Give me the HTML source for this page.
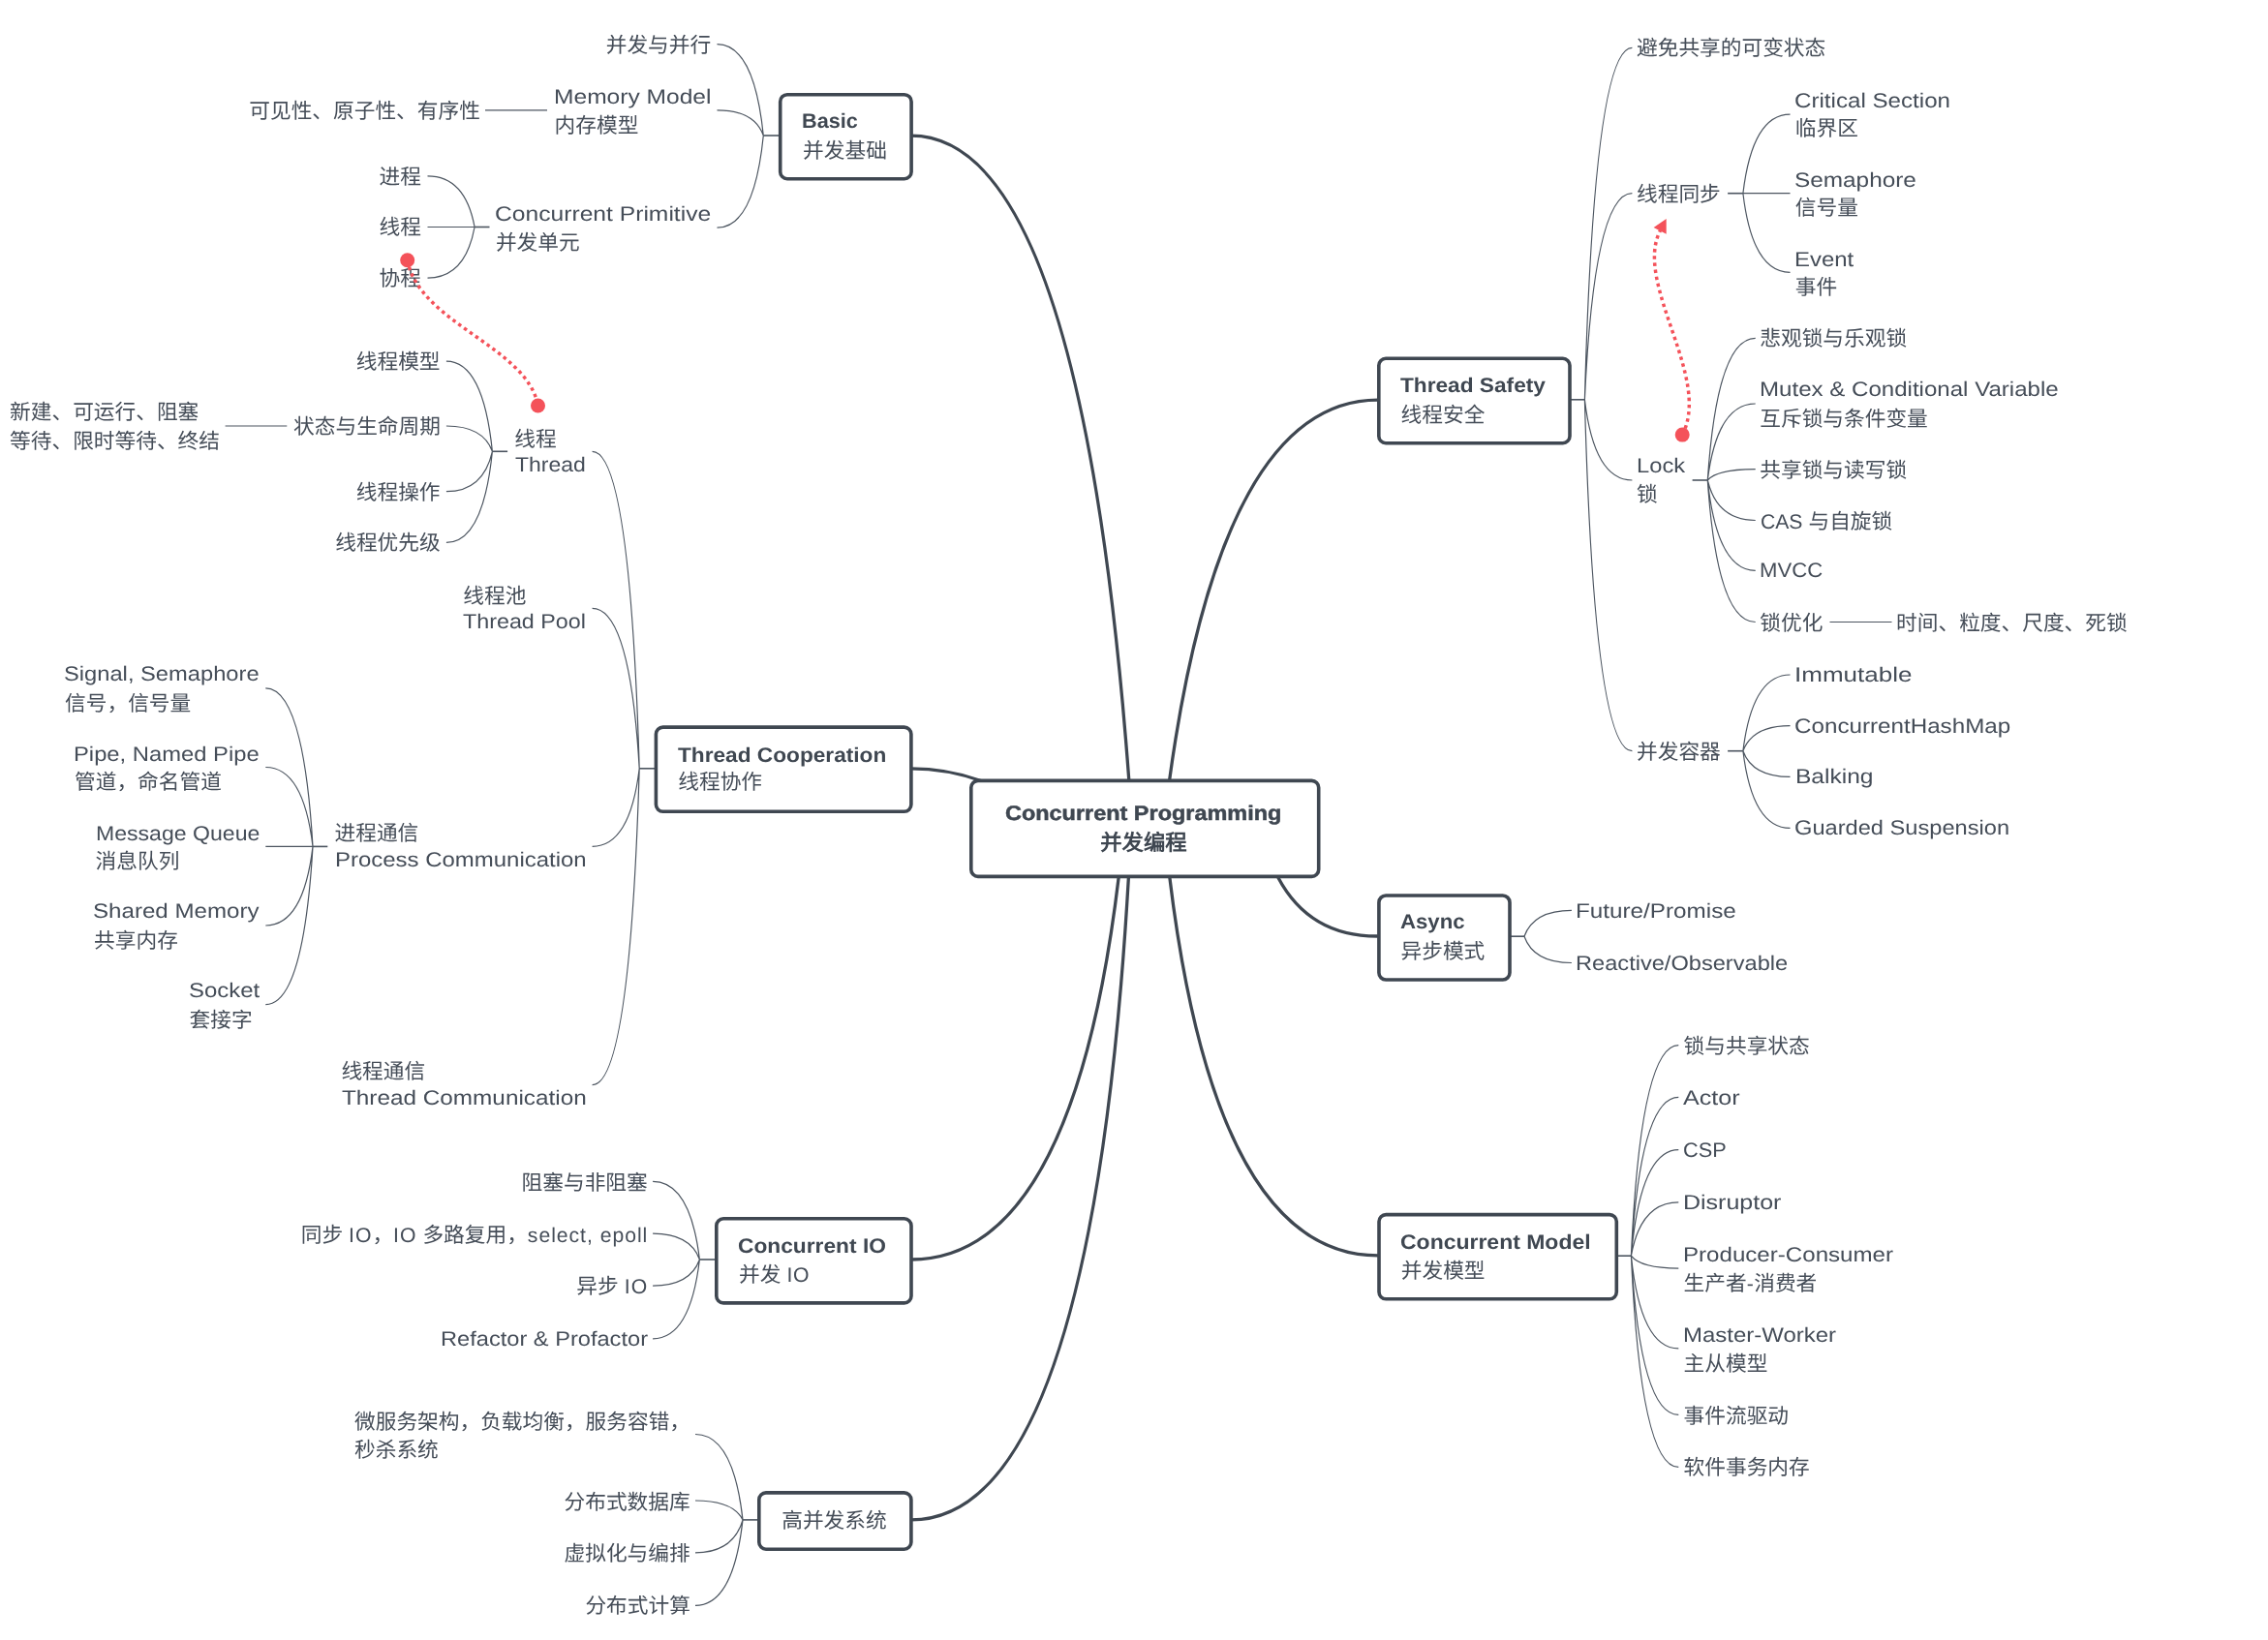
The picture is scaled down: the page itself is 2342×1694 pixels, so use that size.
<!DOCTYPE html>
<html lang="zh-CN">
<head>
<meta charset="utf-8">
<title>Concurrent Programming 并发编程</title>
<style>
html,body{margin:0;padding:0;background:#fff}
body{width:2342px;height:1694px;position:relative;overflow:hidden;font-family:"Liberation Sans",sans-serif;font-size:21.7px;color:#454d58;text-rendering:geometricPrecision}
svg{position:absolute;left:0;top:0}
.t{position:absolute;height:30px;line-height:30px;white-space:nowrap;margin:0}
.tx{position:absolute;left:0;top:0;width:2342px;height:1694px;will-change:transform}
.b{font-weight:bold;color:#3f4751}
.e{font-size:21.2px}
.s{transform-origin:0 50%}
.x{-webkit-text-stroke:0.5px #3f4751}
</style>
</head>
<body>
<svg width="2342" height="1694" viewBox="0 0 2342 1694">
<g fill="none" stroke="#3f4751" stroke-width="3.3" stroke-linecap="round">
<path d="M940.8 140.2Q1116.3 140.2 1165.8 806"/>
<path d="M1422.9 413.2Q1261.4 413.2 1207.6 806"/>
<path d="M940 793.8Q978.6 793.8 1013 806.5"/>
<path d="M1422 967Q1352.2 967 1320 906.7"/>
<path d="M940.8 1301Q1108 1301 1155.2 906"/>
<path d="M940.8 1569.9Q1127.2 1569.9 1165.4 906"/>
<path d="M1422.9 1296.9Q1255.1 1296.9 1207.8 906"/>
</g>
<g fill="none" stroke="#4c5560" stroke-width="1.2">
<path d="M740.5 45.7Q778.7 45.7 788.3 140M740.5 113.8Q778.7 113.8 788.3 140M740.5 235.2Q778.7 235.2 788.3 140"/>
<path d="M441.5 181.8Q480.4 181.8 490.1 234.5M441.5 234.5L490.1 234.5M441.5 287.1Q480.4 287.1 490.1 234.5"/>
<path d="M460.9 373.1Q498.9 373.1 508.4 466.3M460.9 440Q498.9 440 508.4 466.3M460.9 507.7Q498.9 507.7 508.4 466.3M460.9 560.4Q498.9 560.4 508.4 466.3"/>
<path d="M611.6 466.3Q650.5 466.3 660.2 793.8M611.6 628.3Q650.5 628.3 660.2 793.8M611.6 874.4Q650.5 874.4 660.2 793.8M611.6 1120.6Q650.5 1120.6 660.2 793.8"/>
<path d="M274.3 710.9Q313.3 710.9 323 874.4M274.3 792.5Q313.3 792.5 323 874.4M274.3 874.4L323 874.4M274.3 956Q313.3 956 323 874.4M274.3 1037.6Q313.3 1037.6 323 874.4"/>
<path d="M674.1 1220.4Q712.7 1220.4 722.4 1301M674.1 1274.2Q712.7 1274.2 722.4 1301M674.1 1328.1Q712.7 1328.1 722.4 1301M674.1 1382.8Q712.7 1382.8 722.4 1301"/>
<path d="M718 1481.5Q757.2 1481.5 767 1569.9M718 1550Q757.2 1550 767 1569.9M718 1603.8Q757.2 1603.8 767 1569.9M718 1658.4Q757.2 1658.4 767 1569.9"/>
<path d="M1685.4 49.4Q1646.2 49.4 1636.4 412.8M1685.4 199.7Q1646.2 199.7 1636.4 412.8M1685.4 496Q1646.2 496 1636.4 412.8M1685.4 775.7Q1646.2 775.7 1636.4 412.8"/>
<path d="M1848.5 118.1Q1809.6 118.1 1799.9 199.7M1848.5 199.7L1799.9 199.7M1848.5 281.3Q1809.6 281.3 1799.9 199.7"/>
<path d="M1812.7 349.3Q1773.2 349.3 1763.3 496M1812.7 417Q1773.2 417 1763.3 496M1812.7 484.6Q1773.2 484.6 1763.3 496M1812.7 537.5Q1773.2 537.5 1763.3 496M1812.7 589.3Q1773.2 589.3 1763.3 496M1812.7 642.5Q1773.2 642.5 1763.3 496"/>
<path d="M1848.5 697Q1809.6 697 1799.9 775.7M1848.5 749.7Q1809.6 749.7 1799.9 775.7M1848.5 802.4Q1809.6 802.4 1799.9 775.7M1848.5 855.4Q1809.6 855.4 1799.9 775.7"/>
<path d="M1622.9 940.4Q1583.8 940.4 1574 967.2M1622.9 994.5Q1583.8 994.5 1574 967.2"/>
<path d="M1733.3 1079.6Q1694.2 1079.6 1684.4 1297.2M1733.3 1133.3Q1694.2 1133.3 1684.4 1297.2M1733.3 1187.6Q1694.2 1187.6 1684.4 1297.2M1733.3 1241.8Q1694.2 1241.8 1684.4 1297.2M1733.3 1310.1Q1694.2 1310.1 1684.4 1297.2M1733.3 1392.9Q1694.2 1392.9 1684.4 1297.2M1733.3 1461.3Q1694.2 1461.3 1684.4 1297.2M1733.3 1515.4Q1694.2 1515.4 1684.4 1297.2"/>
<path d="M501 113.8L565 113.8"/>
<path d="M232.6 440L296.3 440"/>
<path d="M1889.5 642.5L1953.5 642.5"/>
</g>
<g fill="none" stroke="#4c5560" stroke-width="1.6">
<path d="M788.3 140L806 140"/>
<path d="M490.1 234.5L505.5 234.5"/>
<path d="M508.4 466.3L524.1 466.3"/>
<path d="M660.2 793.8L677.5 793.8"/>
<path d="M323 874.4L338.3 874.4"/>
<path d="M722.4 1301L739.5 1301"/>
<path d="M767 1569.9L784.5 1569.9"/>
<path d="M1636.4 412.8L1621 412.8"/>
<path d="M1799.9 199.7L1784.1 199.7"/>
<path d="M1763.3 496L1747.6 496"/>
<path d="M1799.9 775.7L1784.1 775.7"/>
<path d="M1574 967.2L1559 967.2"/>
<path d="M1684.4 1297.2L1669 1297.2"/>
</g>
<g fill="#fff" stroke="#3f4751" stroke-width="3.6">
<rect x="805.7" y="97.7" width="135.4" height="87" rx="7.2" ry="7.2"/>
<rect x="1423.8" y="370.3" width="197.2" height="87.4" rx="7.2" ry="7.2"/>
<rect x="677.4" y="751.1" width="263.5" height="87.2" rx="7.2" ry="7.2"/>
<rect x="1002.8" y="806.4" width="358.9" height="99" rx="7.2" ry="7.2"/>
<rect x="1423.9" y="925" width="135.1" height="87" rx="7.2" ry="7.2"/>
<rect x="739.8" y="1258.8" width="201.2" height="87.1" rx="7.2" ry="7.2"/>
<rect x="783.8" y="1541.9" width="157.1" height="58.3" rx="7.2" ry="7.2"/>
<rect x="1424" y="1254.6" width="245.3" height="87.2" rx="7.2" ry="7.2"/>
</g>
</svg>
<div class="tx">
<div class="t" id="t0" style="left:625.7px;top:31.7px">并发与并行</div>
<div class="t s" id="t1" style="left:571.9px;top:84.7px;transform:scaleX(1.1598)"><span class="e">Memory Model</span></div>
<div class="t" id="t2" style="left:572.6px;top:114.7px">内存模型</div>
<div class="t" id="t3" style="left:257.3px;top:99.8px">可见性、原子性、有序性</div>
<div class="t s" id="t4" style="left:511.2px;top:205.6px;transform:scaleX(1.1630)"><span class="e">Concurrent Primitive</span></div>
<div class="t" id="t5" style="left:511.9px;top:235.5px">并发单元</div>
<div class="t" id="t6" style="left:391.6px;top:167.8px">进程</div>
<div class="t" id="t7" style="left:391.6px;top:220.1px">线程</div>
<div class="t" id="t8" style="left:391.6px;top:273.1px">协程</div>
<div class="t" id="t9" style="left:367.8px;top:359.1px">线程模型</div>
<div class="t" id="t10" style="left:303.1px;top:426px">状态与生命周期</div>
<div class="t" id="t11" style="left:10.1px;top:411.4px">新建、可运行、阻塞</div>
<div class="t" id="t12" style="left:10.1px;top:440.6px">等待、限时等待、终结</div>
<div class="t" id="t13" style="left:367.8px;top:493.7px">线程操作</div>
<div class="t" id="t14" style="left:346.2px;top:546.4px">线程优先级</div>
<div class="t" id="t15" style="left:531.3px;top:438.5px">线程</div>
<div class="t s" id="t16" style="left:531.7px;top:464.9px;transform:scaleX(1.0843)"><span class="e">Thread</span></div>
<div class="t" id="t17" style="left:478.3px;top:601.1px">线程池</div>
<div class="t s" id="t18" style="left:478.3px;top:626.8px;transform:scaleX(1.0993)"><span class="e">Thread Pool</span></div>
<div class="t s" id="t19" style="left:66.4px;top:681.3px;transform:scaleX(1.1186)"><span class="e">Signal, Semaphore</span></div>
<div class="t" id="t20" style="left:67.1px;top:711.6px">信号，信号量</div>
<div class="t s" id="t21" style="left:76.3px;top:763.6px;transform:scaleX(1.1225)"><span class="e">Pipe, Named Pipe</span></div>
<div class="t" id="t22" style="left:77px;top:793.1px">管道，命名管道</div>
<div class="t s" id="t23" style="left:99.4px;top:845.9px;transform:scaleX(1.0889)"><span class="e">Message Queue</span></div>
<div class="t" id="t24" style="left:98.6px;top:874.7px">消息队列</div>
<div class="t s" id="t25" style="left:96.4px;top:926.4px;transform:scaleX(1.1384)"><span class="e">Shared Memory</span></div>
<div class="t" id="t26" style="left:97.1px;top:956.6px">共享内存</div>
<div class="t s" id="t27" style="left:194.8px;top:1008.3px;transform:scaleX(1.1300)"><span class="e">Socket</span></div>
<div class="t" id="t28" style="left:195.5px;top:1038.6px">套接字</div>
<div class="t" id="t29" style="left:345.5px;top:846.2px">进程通信</div>
<div class="t s" id="t30" style="left:345.5px;top:873.3px;transform:scaleX(1.1310)"><span class="e">Process Communication</span></div>
<div class="t" id="t31" style="left:352.4px;top:1092px">线程通信</div>
<div class="t s" id="t32" style="left:352.5px;top:1119.1px;transform:scaleX(1.1475)"><span class="e">Thread Communication</span></div>
<div class="t" id="t33" style="left:538.6px;top:1206.9px">阻塞与非阻塞</div>
<div class="t" id="t34" style="left:310.7px;top:1260.7px">同步 <span class="e" style="letter-spacing:0.96px">IO</span>，<span class="e" style="letter-spacing:0.96px">IO</span> 多路复用，<span class="e" style="letter-spacing:0.96px">select, epoll</span></div>
<div class="t" id="t35" style="left:595.3px;top:1314.1px">异步 <span class="e" style="letter-spacing:1.12px">IO</span></div>
<div class="t s" id="t36" style="left:454.5px;top:1368px;transform:scaleX(1.1149)"><span class="e">Refactor &amp; Profactor</span></div>
<div class="t" id="t37" style="left:366px;top:1453.8px">微服务架构，负载均衡，服务容错，</div>
<div class="t" id="t38" style="left:366px;top:1483.1px">秒杀系统</div>
<div class="t" id="t39" style="left:582.5px;top:1536.5px">分布式数据库</div>
<div class="t" id="t40" style="left:582.5px;top:1590.2px">虚拟化与编排</div>
<div class="t" id="t41" style="left:604.4px;top:1644.4px">分布式计算</div>
<div class="t" id="t42" style="left:1690px;top:35.4px">避免共享的可变状态</div>
<div class="t" id="t43" style="left:1690px;top:185.7px">线程同步</div>
<div class="t s" id="t44" style="left:1853.1px;top:88.5px;transform:scaleX(1.1393)"><span class="e">Critical Section</span></div>
<div class="t" id="t45" style="left:1853.8px;top:118.4px">临界区</div>
<div class="t s" id="t46" style="left:1853.1px;top:170.8px;transform:scaleX(1.1493)"><span class="e">Semaphore</span></div>
<div class="t" id="t47" style="left:1853.8px;top:200.3px">信号量</div>
<div class="t s" id="t48" style="left:1853.1px;top:252.7px;transform:scaleX(1.1294)"><span class="e">Event</span></div>
<div class="t" id="t49" style="left:1853.8px;top:281.5px">事件</div>
<div class="t s" id="t50" style="left:1690.4px;top:466.3px;transform:scaleX(1.1192)"><span class="e">Lock</span></div>
<div class="t" id="t51" style="left:1690px;top:496.2px">锁</div>
<div class="t" id="t52" style="left:1817.3px;top:335.3px">悲观锁与乐观锁</div>
<div class="t s" id="t53" style="left:1817.3px;top:387.3px;transform:scaleX(1.1363)"><span class="e">Mutex &amp; Conditional Variable</span></div>
<div class="t" id="t54" style="left:1817.3px;top:417.6px">互斥锁与条件变量</div>
<div class="t" id="t55" style="left:1817.3px;top:470.6px">共享锁与读写锁</div>
<div class="t" id="t56" style="left:1818px;top:523.7px"><span class="e" style="letter-spacing:-0.05px">CAS</span> 与自旋锁</div>
<div class="t s" id="t57" style="left:1817.3px;top:574.4px;transform:scaleX(1.0434)"><span class="e">MVCC</span></div>
<div class="t" id="t58" style="left:1817.3px;top:628.5px">锁优化</div>
<div class="t" id="t59" style="left:1958.1px;top:628.5px">时间、粒度、尺度、死锁</div>
<div class="t" id="t60" style="left:1690px;top:761.7px">并发容器</div>
<div class="t s" id="t61" style="left:1853.1px;top:682px;transform:scaleX(1.2282)"><span class="e">Immutable</span></div>
<div class="t s" id="t62" style="left:1853.1px;top:734.7px;transform:scaleX(1.1417)"><span class="e">ConcurrentHashMap</span></div>
<div class="t s" id="t63" style="left:1853.9px;top:787.4px;transform:scaleX(1.1583)"><span class="e">Balking</span></div>
<div class="t s" id="t64" style="left:1853.1px;top:840.4px;transform:scaleX(1.1156)"><span class="e">Guarded Suspension</span></div>
<div class="t s" id="t65" style="left:1627.4px;top:925.6px;transform:scaleX(1.1448)"><span class="e">Future/Promise</span></div>
<div class="t s" id="t66" style="left:1627.4px;top:979.8px;transform:scaleX(1.1145)"><span class="e">Reactive/Observable</span></div>
<div class="t" id="t67" style="left:1738.6px;top:1065.6px">锁与共享状态</div>
<div class="t s" id="t68" style="left:1737.9px;top:1118.6px;transform:scaleX(1.1850)"><span class="e">Actor</span></div>
<div class="t s" id="t69" style="left:1737.9px;top:1172.6px;transform:scaleX(1.0257)"><span class="e">CSP</span></div>
<div class="t s" id="t70" style="left:1737.9px;top:1226.8px;transform:scaleX(1.1797)"><span class="e">Disruptor</span></div>
<div class="t s" id="t71" style="left:1737.9px;top:1280.5px;transform:scaleX(1.1375)"><span class="e">Producer-Consumer</span></div>
<div class="t" id="t72" style="left:1738.6px;top:1310.8px">生产者<span class="e" style="letter-spacing:0.48px">-</span>消费者</div>
<div class="t s" id="t73" style="left:1737.9px;top:1363.6px;transform:scaleX(1.1317)"><span class="e">Master-Worker</span></div>
<div class="t" id="t74" style="left:1738.6px;top:1393.8px">主从模型</div>
<div class="t" id="t75" style="left:1738.6px;top:1447.6px">事件流驱动</div>
<div class="t" id="t76" style="left:1738.6px;top:1501.4px">软件事务内存</div>
<div class="t b s" id="t77" style="left:828.4px;top:110.3px;transform:scaleX(1.0222)"><span class="e">Basic</span></div>
<div class="t" id="t78" style="left:829.1px;top:140.7px">并发基础</div>
<div class="t b s" id="t79" style="left:1445.9px;top:383.3px;transform:scaleX(1.0698)"><span class="e">Thread Safety</span></div>
<div class="t" id="t80" style="left:1446.6px;top:413.7px">线程安全</div>
<div class="t b s" id="t81" style="left:699.8px;top:764.6px;transform:scaleX(1.0696)"><span class="e">Thread Cooperation</span></div>
<div class="t" id="t82" style="left:700.3px;top:793.4px">线程协作</div>
<div class="t b x s" id="t83" style="left:1038px;top:825.4px;transform:scaleX(1.1066)"><span class="e">Concurrent Programming</span></div>
<div class="t b" id="t84" style="left:1136.3px;top:856px;font-size:22.3px">并发编程</div>
<div class="t b s" id="t85" style="left:1445.8px;top:937.3px;transform:scaleX(1.0473)"><span class="e">Async</span></div>
<div class="t" id="t86" style="left:1446.5px;top:967.6px">异步模式</div>
<div class="t b s" id="t87" style="left:762.3px;top:1271.6px;transform:scaleX(1.0735)"><span class="e">Concurrent IO</span></div>
<div class="t" id="t88" style="left:763px;top:1301.9px">并发 <span class="e" style="letter-spacing:0.72px">IO</span></div>
<div class="t" id="t89" style="left:807.2px;top:1555.8px">高并发系统</div>
<div class="t b s" id="t90" style="left:1446.1px;top:1267.6px;transform:scaleX(1.0845)"><span class="e">Concurrent Model</span></div>
<div class="t" id="t91" style="left:1446.8px;top:1297.6px">并发模型</div>
</div>
<svg width="2342" height="1694" viewBox="0 0 2342 1694">
<g fill="none" stroke="#f4525a" stroke-width="3.5" stroke-dasharray="3.5 3.7">
<path d="M420.7 268.7C432.9 334.2 544.8 358.2 555.5 419"/>
<path d="M1737.2 449.1C1768.2 389.6 1686.1 292.5 1714.5 238"/>
</g>
<g fill="#f4525a" stroke="none">
<circle cx="420.7" cy="268.7" r="7.5"/>
<circle cx="555.5" cy="419" r="7.5"/>
<circle cx="1737.2" cy="449.1" r="7.5"/>
<path d="M1720.7 225.9L1707.6 235.1L1720.7 241.7Z"/>
</g>
</svg>
</body>
</html>
